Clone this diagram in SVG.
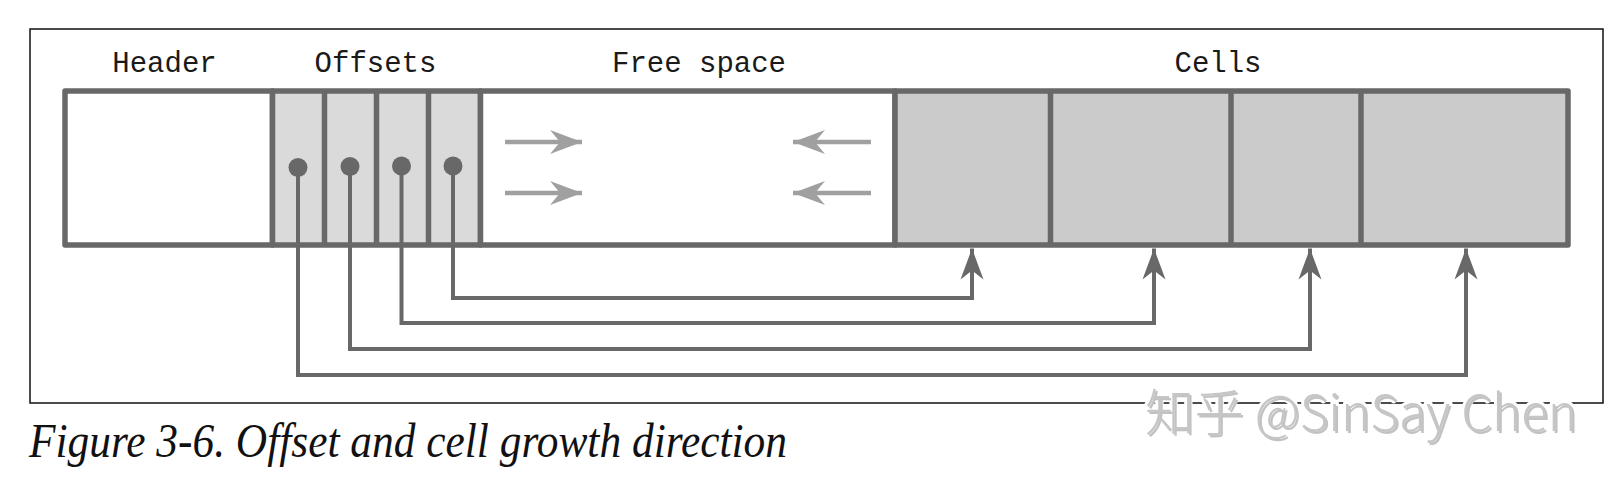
<svg xmlns="http://www.w3.org/2000/svg" width="1622" height="486" viewBox="0 0 1622 486">
  <style>
    .lbl { font-family: "Liberation Mono", "DejaVu Sans Mono", monospace; font-size: 29px; fill: #1a1a1a; text-anchor: middle; }
    .box { stroke: #686868; stroke-width: 5.5; stroke-linejoin: round; }
    .div { stroke: #686868; stroke-width: 5.5; fill: none; }
    .conn { stroke: #686868; stroke-width: 4; fill: none; stroke-linejoin: miter; }
    .grow { stroke: #a0a0a0; stroke-width: 4.5; fill: none; }
    .dot { fill: #686868; }
    .cap { font-family: "Liberation Serif", "Times New Roman", serif; font-style: italic; font-size: 48px; fill: #111; }
    .wm { font-family: "Noto Sans CJK SC", "Noto Sans", sans-serif; font-weight: 300; font-size: 50px; }
  </style>
  <defs>
    <marker id="ah" viewBox="-33 -13 34 26" refX="0" refY="0" markerWidth="34" markerHeight="26" markerUnits="userSpaceOnUse" orient="auto">
      <path d="M0,0 L-31,-11.5 L-22,0 L-31,11.5 Z" fill="#686868"/>
    </marker>
    <marker id="ag" viewBox="-33 -13 34 26" refX="0" refY="0" markerWidth="34" markerHeight="26" markerUnits="userSpaceOnUse" orient="auto">
      <path d="M0,0 L-32,-12 L-22,0 L-32,12 Z" fill="#a0a0a0"/>
    </marker>
  </defs>
  <rect x="0" y="0" width="1622" height="486" fill="#ffffff"/>
  <rect id="frame" x="30" y="29" width="1573" height="374" fill="none" stroke="#111" stroke-width="1.5"/>

  <g id="header">
    <rect x="65" y="91" width="207.5" height="154" fill="#ffffff" class="box"/>
    <text class="lbl" x="164.5" y="72">Header</text>
  </g>
  <g id="offsets">
    <rect x="272.5" y="91" width="208" height="154" fill="#dadada" class="box"/>
    <line class="div" x1="324.5" y1="91" x2="324.5" y2="245"/>
    <line class="div" x1="376.5" y1="91" x2="376.5" y2="245"/>
    <line class="div" x1="428.5" y1="91" x2="428.5" y2="245"/>
    <circle class="dot" cx="298" cy="167.5" r="9.5"/>
    <circle class="dot" cx="350" cy="166.5" r="9.5"/>
    <circle class="dot" cx="401.5" cy="166" r="9.5"/>
    <circle class="dot" cx="453" cy="166" r="9.5"/>
    <text class="lbl" x="375.5" y="72">Offsets</text>
  </g>
  <g id="free-space">
    <rect x="480.5" y="91" width="414.5" height="154" fill="#ffffff" class="box"/>
    <line class="grow" x1="505" y1="142" x2="582" y2="142" marker-end="url(#ag)"/>
    <line class="grow" x1="505" y1="193" x2="582" y2="193" marker-end="url(#ag)"/>
    <line class="grow" x1="871" y1="142" x2="793" y2="142" marker-end="url(#ag)"/>
    <line class="grow" x1="871" y1="193" x2="793" y2="193" marker-end="url(#ag)"/>
    <text class="lbl" x="699" y="72">Free space</text>
  </g>
  <g id="cells">
    <rect x="895" y="91" width="673" height="154" fill="#cbcbcb" class="box"/>
    <line class="div" x1="1050.5" y1="91" x2="1050.5" y2="245"/>
    <line class="div" x1="1231" y1="91" x2="1231" y2="245"/>
    <line class="div" x1="1361" y1="91" x2="1361" y2="245"/>
    <text class="lbl" x="1218" y="72">Cells</text>
  </g>

  <g id="connectors">
    <polyline class="conn" points="453,166 453,298 972,298 972,248.5" marker-end="url(#ah)"/>
    <polyline class="conn" points="401.5,166 401.5,323 1154,323 1154,248.5" marker-end="url(#ah)"/>
    <polyline class="conn" points="350,166 350,349 1310,349 1310,248.5" marker-end="url(#ah)"/>
    <polyline class="conn" points="298,167 298,375 1466,375 1466,248.5" marker-end="url(#ah)"/>
  </g>

  <text class="cap" x="29" y="457" textLength="758" lengthAdjust="spacingAndGlyphs">Figure 3-6. Offset and cell growth direction</text>

  <g id="watermark">
    <text class="wm" x="1145" y="431" fill="#ffffff" stroke="#ffffff" stroke-width="6" stroke-linejoin="round" textLength="432" lengthAdjust="spacingAndGlyphs">知乎 @SinSay Chen</text>
    <text class="wm" x="1147" y="433" fill="#9a9a9a" opacity="0.6" textLength="432" lengthAdjust="spacingAndGlyphs">知乎 @SinSay Chen</text>
    <text class="wm" x="1145" y="431" fill="#c6c6c6" textLength="432" lengthAdjust="spacingAndGlyphs">知乎 @SinSay Chen</text>
  </g>
</svg>
